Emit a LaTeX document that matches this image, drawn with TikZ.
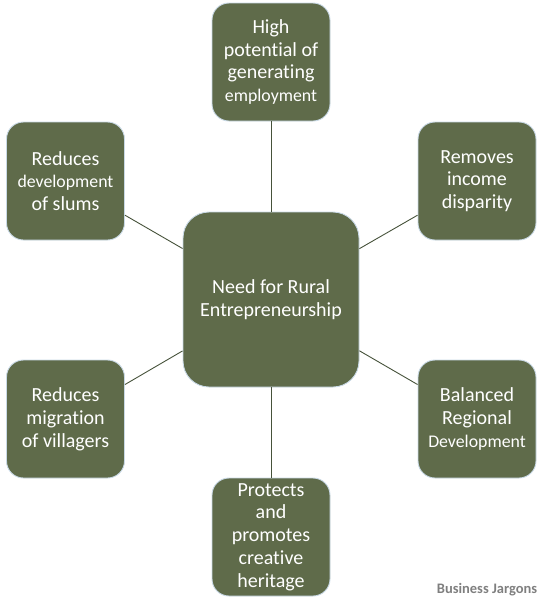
\documentclass[tikz,border=0pt]{standalone}
\usepackage{fontspec}
\setmainfont{Carlito}[Ligatures=NoCommon]
\definecolor{boxfill}{HTML}{5F6B4A}
\definecolor{boxline}{HTML}{C9D9E6}
\definecolor{linkc}{HTML}{46523A}
\definecolor{credit}{HTML}{7F7F7F}
\tikzset{
  leaf/.style={draw=boxline, line width=0.9pt, fill=boxfill, rounded corners=17pt,
    minimum width=118pt, minimum height=118pt, inner sep=1pt, align=center,
    text=white, font=\fontsize{20}{22.8}\selectfont},
  hub/.style={leaf, minimum width=176pt, minimum height=175pt, rounded corners=26pt},
  link/.style={draw=linkc, line width=0.9pt}
}
\newcommand{\smalltxt}[1]{{\fontsize{17.8}{22.8}\selectfont #1}}
\begin{document}
\begin{tikzpicture}[x=1pt,y=-1pt]
\useasboundingbox (0,0) rectangle (541,600);
\node[hub] (c) at (271,299.5) {Need for Rural\\Entrepreneurship};
\node[leaf] (t) at (271,62) {High\\potential of\\generating\\\smalltxt{employment}};
\node[leaf] (ul) at (65.5,181) {Reduces\\\smalltxt{development}\\of slums};
\node[leaf] (ur) at (477,181) {Removes\\income\\disparity};
\node[leaf] (ll) at (65.5,419) {Reduces\\migration\\of villagers};
\node[leaf] (lr) at (477,419) {Balanced\\Regional\\\smalltxt{Development}};
\node[leaf] (b) at (271,537) {Protects\\and\\promotes\\creative\\heritage};
\foreach \n in {t,ul,ur,ll,lr,b} \draw[link] (c) -- (\n);
\node[text=credit, font=\bfseries\fontsize{14.5}{16}\selectfont] (cr) at (487,590) {Business Jargons};
\end{tikzpicture}
\end{document}
